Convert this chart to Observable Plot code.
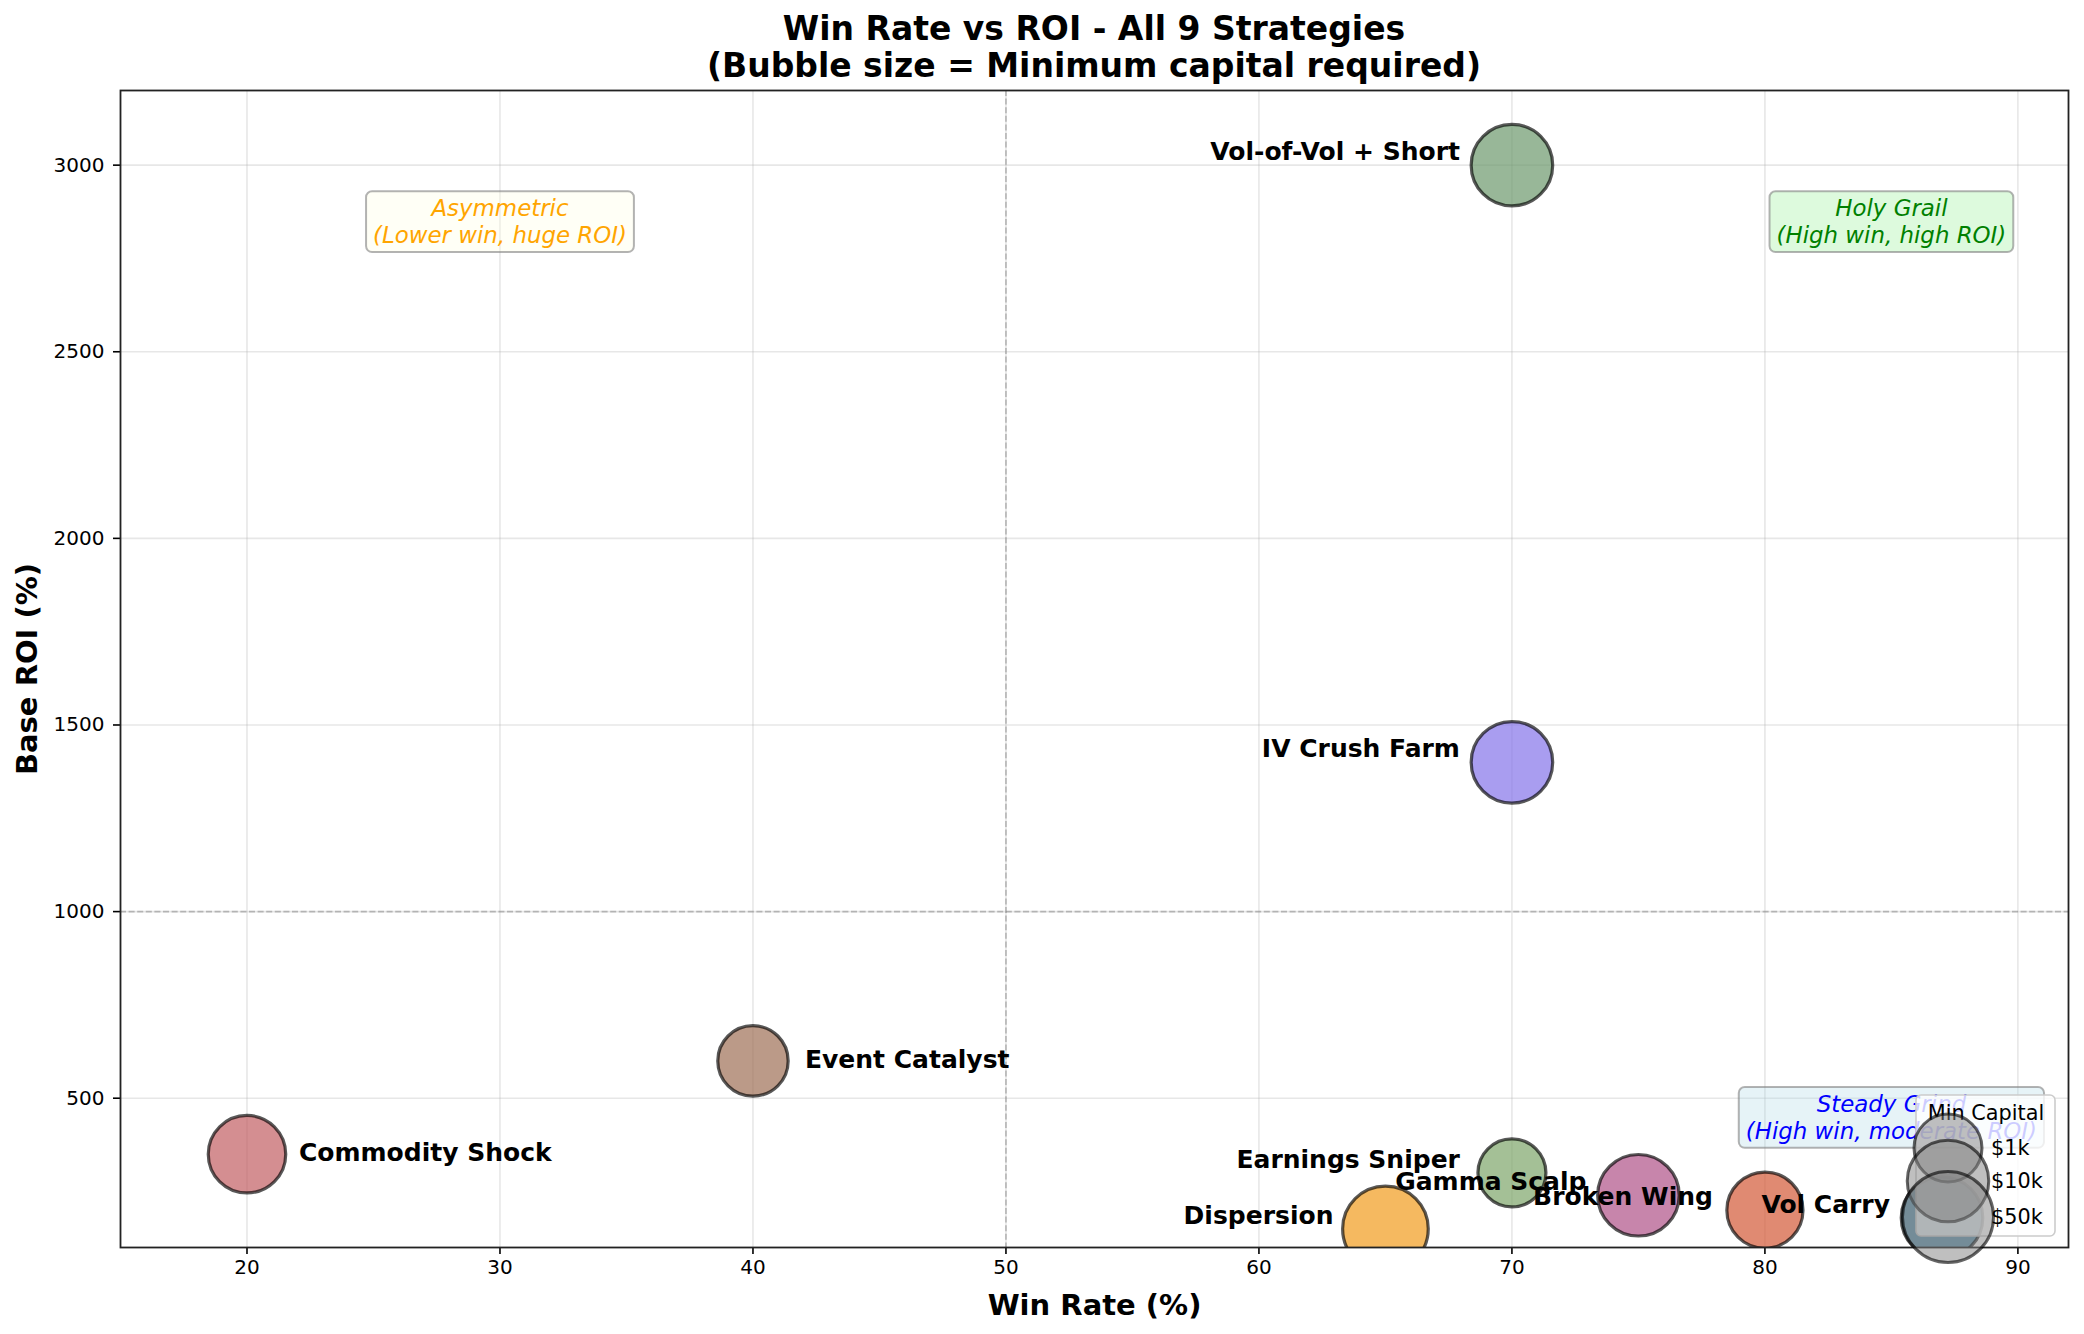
<!DOCTYPE html>
<html>
<head>
<meta charset="utf-8">
<script src="https://cdn.jsdelivr.net/npm/d3@7"></script>
<script src="https://cdn.jsdelivr.net/npm/@observablehq/plot@0.6"></script>
<style>
  html, body { margin: 0; padding: 0; background: white; }
  #wrap { width: 2084px; height: 1334px; position: relative; font-family: "DejaVu Sans", sans-serif; }
  #title { box-sizing: border-box; height: 84px; padding: 10px 16px 0 120px; text-align: center;
           font-weight: bold; font-size: 33px; line-height: 37px; color: #000; }
  svg { display: block; }
</style>
</head>
<body>
<div id="wrap">
  <div id="title">Win Rate vs ROI - All 9 Strategies<br>(Bubble size = Minimum capital required)</div>
  <div id="chart"></div>
</div>
<script>
// ---- data ----
const strategies = ["Vol-of-Vol + Short", "IV Crush Farm", "Event Catalyst", "Commodity Shock",
  "Earnings Sniper", "Gamma Scalp", "Broken Wing", "Vol Carry", "Dispersion"];
const winRates = [70, 70, 40, 20, 70, 75, 80, 87, 65];
const baseROI = [3000, 1400, 600, 350, 300, 240, 200, 180, 150];
const minCapital = [10000, 10000, 1500, 5000, 1000, 10000, 4000, 10000, 20000];
const colors = ["#6c996c", "#8474ea", "#9e6f56", "#c25e63", "#7ea569", "#af5187", "#d35836", "#2a6d8e", "#f19b1c"];

const xTicks = [20, 30, 40, 50, 60, 70, 80, 90];
const yTicks = [500, 1000, 1500, 2000, 2500, 3000];

const quadrantLabels = ["Asymmetric\n(Lower win, huge ROI)", "Holy Grail\n(High win, high ROI)", "Steady Grind\n(High win, moderate ROI)"];
const quadrantX = [30, 85, 85];
const quadrantY = [2850, 2850, 450];
const quadrantTextColors = ["orange", "green", "blue"];
const quadrantFills = ["lightyellow", "lightgreen", "lightblue"];

const legendCapitals = [1000, 10000, 50000];
const legendLabels = ["$1k", "$10k", "$50k"];

const data = strategies.map((s, i) => ({
  name: s, win: winRates[i], roi: baseROI[i], cap: minCapital[i], color: colors[i]
}));
const quadrants = quadrantLabels.map((t, i) => ({
  text: t, x: quadrantX[i], y: quadrantY[i], color: quadrantTextColors[i], fill: quadrantFills[i]
}));

const W = 2084, H = 1250;
const mL = 120, mR = 16, mT = 6, mB = 87;

const plot = Plot.plot({
  width: W, height: H,
  marginLeft: mL, marginRight: mR, marginTop: mT, marginBottom: mB,
  style: { fontFamily: "DejaVu Sans", fontSize: "20px", background: "white", color: "black" },
  x: { domain: [15, 92], label: null },
  y: { domain: [100, 3200], label: null },
  r: { type: "log", domain: [1000, 50000], range: [34, 45.5] },
  color: { type: "identity" },
  marks: [
    Plot.gridX(xTicks, { stroke: "#b0b0b0", strokeOpacity: 0.3, strokeWidth: 1.6 }),
    Plot.gridY(yTicks, { stroke: "#b0b0b0", strokeOpacity: 0.3, strokeWidth: 1.6 }),
    Plot.ruleX([50], { stroke: "gray", strokeOpacity: 0.5, strokeWidth: 1.6, strokeDasharray: "6,2.6" }),
    Plot.ruleY([1000], { stroke: "gray", strokeOpacity: 0.5, strokeWidth: 1.6, strokeDasharray: "6,2.6" }),
    Plot.text(quadrants, {
      x: "x", y: "y", text: "text", fill: "color", fontStyle: "italic", fontSize: 22.9,
      lineHeight: 1.17, textAnchor: "middle", lineAnchor: "middle", ariaLabel: () => "quadrant"
    }),
    Plot.dot(data, {
      x: "win", y: "roi", r: "cap", fill: "color", fillOpacity: 0.7,
      stroke: "black", strokeOpacity: 0.65, strokeWidth: 3.2, clip: true
    }),
    Plot.text(data.filter(d => d.win < 50), {
      x: "win", y: "roi", text: "name", textAnchor: "start", dx: 52, dy: -1,
      fontWeight: "bold", fontSize: 25, fill: "black"
    }),
    Plot.text(data.filter(d => d.win >= 50), {
      x: "win", y: "roi", text: "name", textAnchor: "end", dx: -52, dy: -13,
      fontWeight: "bold", fontSize: 25, fill: "black"
    }),
    Plot.axisX(xTicks, { tickSize: 7, tickPadding: 5, fontSize: 20, strokeWidth: 1.6, label: null, tickFormat: d => String(d) }),
    Plot.axisY(yTicks, { tickSize: 7, tickPadding: 9, fontSize: 20, strokeWidth: 1.6, label: null, tickFormat: d => String(d) }),
    Plot.frame({ stroke: "#222", strokeWidth: 1.8 }),
    Plot.text(["Win Rate (%)"], {
      frameAnchor: "bottom", dy: 58, lineAnchor: "middle", text: d => d,
      fontWeight: "bold", fontSize: 29, fill: "black"
    }),
    Plot.text(["Base ROI (%)"], {
      frameAnchor: "left", dx: -93, rotate: -90, lineAnchor: "middle", textAnchor: "middle", text: d => d,
      fontWeight: "bold", fontSize: 29, fill: "black"
    })
  ]
});

document.getElementById("chart").appendChild(plot);

// ---- boxes behind quadrant annotations ----
const svg = d3.select(plot);
let qNodes = svg.selectAll('text[aria-label="quadrant"]').nodes();
if (qNodes.length === 0) qNodes = svg.selectAll('g[aria-label="quadrant"] text').nodes();
if (qNodes.length === 0) {
  qNodes = svg.selectAll("text").nodes().filter(n => quadrantLabels.some(q => q.replace(/\n/g, "") === n.textContent));
}
qNodes.forEach((node, i) => {
  const bb = node.getBBox();
  const padX = 7, padY = 5;
  d3.select(node.parentNode).insert("rect", () => node)
    .attr("transform", node.getAttribute("transform"))
    .attr("x", bb.x - padX).attr("y", bb.y - padY + 1)
    .attr("width", bb.width + 2 * padX).attr("height", bb.height + 2 * padY - 2)
    .attr("rx", 6).attr("ry", 6)
    .attr("fill", quadrants[i].fill).attr("fill-opacity", 0.3)
    .attr("stroke", "gray").attr("stroke-opacity", 0.6).attr("stroke-width", 2);
});

// ---- size legend (uses the chart's r scale) ----
const rScale = plot.scale("r");
const frameRight = W - mR, frameBottom = H - mB;
const boxW = 139, boxH = 141;
const bx = frameRight - 13 - boxW, by = frameBottom - 11 - boxH;
const lg = svg.append("g").attr("transform", `translate(${bx},${by})`)
  .attr("text-anchor", "start");
lg.append("rect").attr("width", boxW).attr("height", boxH).attr("rx", 5)
  .attr("fill", "white").attr("fill-opacity", 0.8)
  .attr("stroke", "#cccccc").attr("stroke-width", 1.6);
lg.append("text").attr("x", 70).attr("y", 18).attr("text-anchor", "middle")
  .attr("dominant-baseline", "central").style("font-size", "20.8px").attr("fill", "black")
  .text("Min Capital");
const rowY = [53, 86, 122];
legendCapitals.forEach((c, i) => {
  lg.append("circle").attr("cx", 32).attr("cy", rowY[i]).attr("r", rScale.apply(c))
    .attr("fill", "gray").attr("fill-opacity", 0.5)
    .attr("stroke", "black").attr("stroke-opacity", 0.6).attr("stroke-width", 3);
});
legendCapitals.forEach((c, i) => {
  lg.append("text").attr("x", 75).attr("y", rowY[i]).attr("text-anchor", "start")
    .attr("dominant-baseline", "central")
    .style("font-size", "20.8px").attr("fill", "black").text(legendLabels[i]);
});
</script>
</body>
</html>
